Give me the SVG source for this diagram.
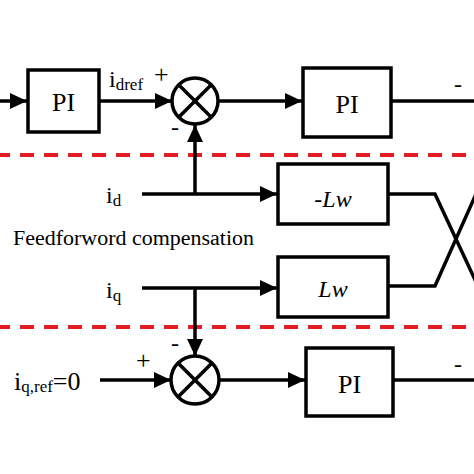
<svg xmlns="http://www.w3.org/2000/svg" width="474" height="474" viewBox="0 0 474 474">
<style>
.blk{fill:#fff;stroke:#000;stroke-width:3.5}
.ln{fill:none;stroke:#000;stroke-width:3.5}
.sum{fill:#fff;stroke:#000;stroke-width:3.5}
.red{fill:none;stroke:#e31b23;stroke-width:4;stroke-dasharray:14 10}
</style>
<defs>
<marker id="ah" markerUnits="userSpaceOnUse" markerWidth="18" markerHeight="16" refX="17" refY="8" orient="auto">
<path d="M0,0 L17,8 L0,16 Z" fill="#000"/>
</marker>
</defs>
<g id="dividers">
<line class="red" x1="-4" y1="155" x2="474" y2="155"/>
<line class="red" x1="-4" y1="327" x2="474" y2="327"/>
</g>
<g id="connectors">
<line class="ln" x1="0" y1="101" x2="27" y2="101" marker-end="url(#ah)"/>
<line class="ln" x1="99" y1="101" x2="172" y2="101" marker-end="url(#ah)"/>
<line class="ln" x1="218" y1="101" x2="302" y2="101" marker-end="url(#ah)"/>
<line class="ln" x1="391" y1="101" x2="474" y2="101"/>
<line class="ln" x1="142" y1="194" x2="277" y2="194" marker-end="url(#ah)"/>
<line class="ln" x1="195" y1="194" x2="195" y2="125" marker-end="url(#ah)"/>
<line class="ln" x1="142" y1="288" x2="277" y2="288" marker-end="url(#ah)"/>
<line class="ln" x1="195" y1="288" x2="195" y2="356" marker-end="url(#ah)"/>
<line class="ln" x1="100" y1="380" x2="171" y2="380" marker-end="url(#ah)"/>
<line class="ln" x1="219" y1="380" x2="305" y2="380" marker-end="url(#ah)"/>
<line class="ln" x1="393" y1="380" x2="474" y2="380"/>
<polyline class="ln" points="388,194 435,194 476,282"/>
<polyline class="ln" points="388,286 435,286 476,194"/>
</g>
<g font-family="Liberation Serif, Times New Roman, serif" fill="#000">
<g id="pi1">
<rect class="blk" x="28" y="70" width="71" height="62"/>
<text font-size="26" x="63.5" y="111" text-anchor="middle">PI</text>
</g>
<g id="sum1">
<circle class="sum" cx="195" cy="101" r="23"/>
<line class="ln" x1="178.7" y1="84.7" x2="211.3" y2="117.3"/>
<line class="ln" x1="211.3" y1="84.7" x2="178.7" y2="117.3"/>
</g>
<g id="pi2">
<rect class="blk" x="303" y="68" width="88" height="69"/>
<text font-size="26" x="347" y="113" text-anchor="middle">PI</text>
</g>
<g id="neglw">
<rect class="blk" x="278" y="164" width="110" height="60"/>
<text font-size="24" font-style="italic" x="333" y="207" text-anchor="middle">-Lw</text>
</g>
<g id="lw">
<rect class="blk" x="278" y="257" width="110" height="60"/>
<text font-size="24" font-style="italic" x="333" y="297" text-anchor="middle">Lw</text>
</g>
<g id="sum2">
<circle class="sum" cx="195" cy="380" r="24"/>
<line class="ln" x1="178" y1="363" x2="212" y2="397"/>
<line class="ln" x1="212" y1="363" x2="178" y2="397"/>
</g>
<g id="pi3">
<rect class="blk" x="306" y="348" width="87" height="68"/>
<text font-size="26" x="349.5" y="393" text-anchor="middle">PI</text>
</g>
<g id="labels">
<text font-size="24" x="109" y="87">i<tspan font-size="17" dy="3">dref</tspan></text>
<text font-size="26" x="154" y="83">+</text>
<text font-size="24" x="171" y="135">-</text>
<text font-size="24" x="454" y="92">-</text>
<text font-size="24" x="106" y="203">i<tspan font-size="17" dy="3">d</tspan></text>
<text font-size="20" x="13" y="245" textLength="241" lengthAdjust="spacingAndGlyphs">Feedforword compensation</text>
<text font-size="24" x="106" y="298">i<tspan font-size="17" dy="3">q</tspan></text>
<text font-size="24" x="171" y="351">-</text>
<text font-size="26" x="136" y="369">+</text>
<text font-size="24" x="454" y="372">-</text>
<text font-size="26" x="14" y="390">i<tspan font-size="17" dy="2">q,ref</tspan><tspan dy="-2">=0</tspan></text>
</g>
</g>
</svg>
